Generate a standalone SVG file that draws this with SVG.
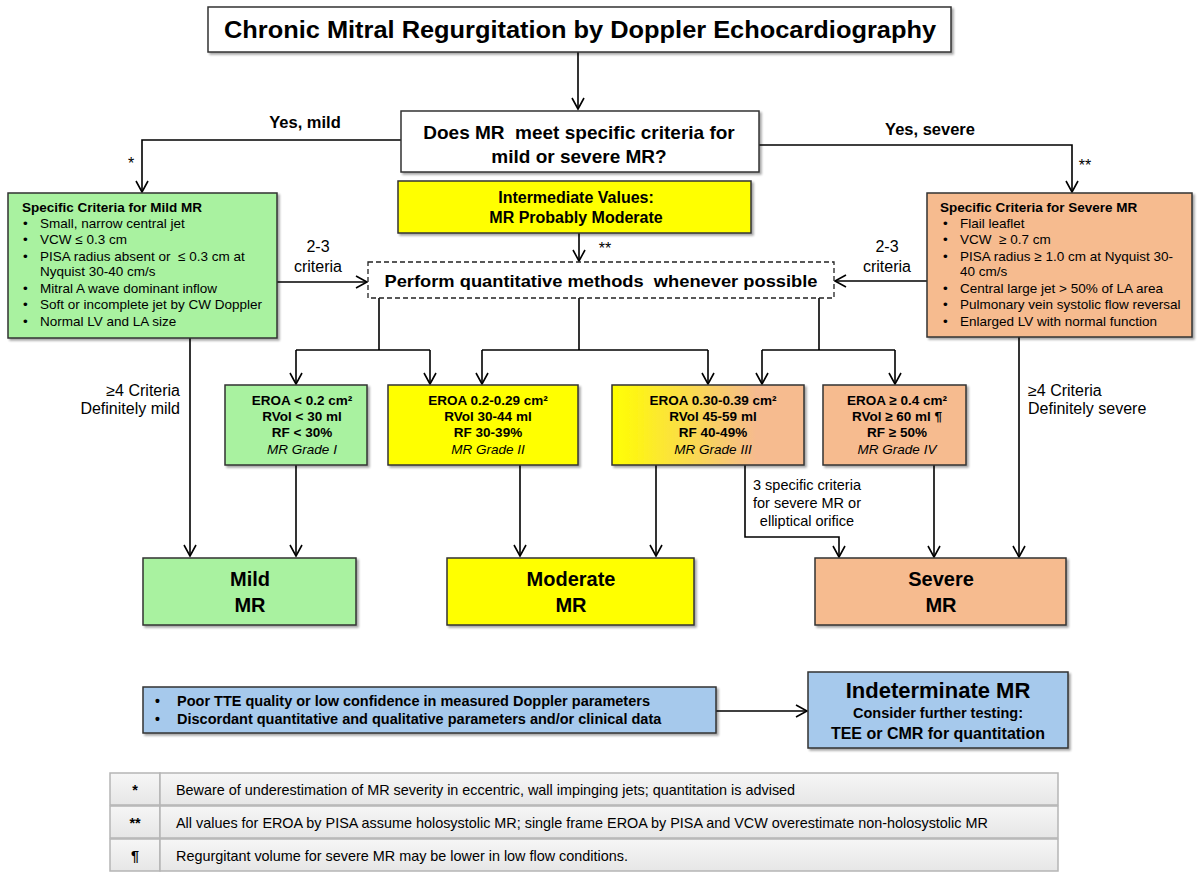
<svg xmlns="http://www.w3.org/2000/svg" width="1200" height="876" viewBox="0 0 1200 876">
<defs>
<marker id="arr" markerWidth="14" markerHeight="14" refX="12" refY="7" orient="auto" markerUnits="userSpaceOnUse">
<path d="M1,1 L12,7 L1,13" fill="none" stroke="#000" stroke-width="1.6"/>
</marker>
<filter id="sh" x="-5%" y="-5%" width="110%" height="115%">
<feDropShadow dx="2" dy="2" stdDeviation="1" flood-color="#000" flood-opacity="0.35"/>
</filter>
<linearGradient id="g3" x1="0" y1="0" x2="1" y2="0">
<stop offset="0" stop-color="#ffff00"/>
<stop offset="0.75" stop-color="#f6bb8f"/>
</linearGradient>
<linearGradient id="tb" x1="0" y1="0" x2="0" y2="1">
<stop offset="0" stop-color="#f6f6f6"/>
<stop offset="1" stop-color="#e6e6e6"/>
</linearGradient>
</defs>
<style>
text{font-family:"Liberation Sans",Arial,sans-serif;fill:#000}
.b{font-weight:bold}
.box{stroke:#333;stroke-width:1.5}
.green{fill:#a9f2a0}
.yellow{fill:#ffff00}
.orange{fill:#f6bb8f}
.blue{fill:#a6c9ec}
.white{fill:#fff}
.c{text-anchor:middle}
.r{text-anchor:end}
.crit{font-size:13.5px}
.ct{font-size:13.5px;font-weight:bold}
.grade{font-size:13.5px;font-weight:bold;text-anchor:middle}
.gi{font-size:13.5px;font-style:italic;text-anchor:middle}
.big{font-size:20px;font-weight:bold;text-anchor:middle}
.lbl{font-size:16px}
.yes{font-size:16.5px;font-weight:bold;text-anchor:middle}
.con{fill:none;stroke:#000;stroke-width:1.6}
.tcell{fill:url(#tb);stroke:#b5b5b5;stroke-width:1.5}
.ft{font-size:14.4px}
</style>

<g id="connectors">
<path class="con" d="M578,52 V109" marker-end="url(#arr)"/>
<path class="con" d="M401,140 H142 V192" marker-end="url(#arr)"/>
<path class="con" d="M759,145 H1072 V192" marker-end="url(#arr)"/>
<path class="con" d="M579,233 V261" marker-end="url(#arr)"/>
<path class="con" d="M277,282 H367" marker-end="url(#arr)"/>
<path class="con" d="M927,281 H835" marker-end="url(#arr)"/>
<path class="con" d="M379,298 V350"/>
<path class="con" d="M296,350 H430"/>
<path class="con" d="M296,350 V384" marker-end="url(#arr)"/>
<path class="con" d="M430,350 V384" marker-end="url(#arr)"/>
<path class="con" d="M579,298 V350"/>
<path class="con" d="M482,350 H708"/>
<path class="con" d="M482,350 V384" marker-end="url(#arr)"/>
<path class="con" d="M708,350 V384" marker-end="url(#arr)"/>
<path class="con" d="M819,298 V350"/>
<path class="con" d="M762,350 H895"/>
<path class="con" d="M762,350 V384" marker-end="url(#arr)"/>
<path class="con" d="M895,350 V384" marker-end="url(#arr)"/>
<path class="con" d="M190,338 V556" marker-end="url(#arr)"/>
<path class="con" d="M296,465 V556" marker-end="url(#arr)"/>
<path class="con" d="M520,465 V556" marker-end="url(#arr)"/>
<path class="con" d="M656,465 V556" marker-end="url(#arr)"/>
<path class="con" d="M745,465 V537 H839 V557" marker-end="url(#arr)"/>
<path class="con" d="M934,465 V557" marker-end="url(#arr)"/>
<path class="con" d="M1019,337 V557" marker-end="url(#arr)"/>
<path class="con" d="M716,711 H807" marker-end="url(#arr)"/>
<text class="yes" x="305" y="128">Yes, mild</text>
<text class="yes" x="930" y="135">Yes, severe</text>
<text class="lbl c" x="131" y="169">*</text>
<text class="lbl c" x="1085" y="171">**</text>
<text class="lbl c" x="605" y="254">**</text>
<text class="lbl c" x="318" y="252">2-3</text>
<text class="lbl c" x="318" y="272">criteria</text>
<text class="lbl c" x="887" y="252">2-3</text>
<text class="lbl c" x="887" y="272">criteria</text>
<text class="lbl r" x="180" y="396">≥4 Criteria</text>
<text class="lbl r" x="180" y="414">Definitely mild</text>
<text class="lbl" x="1028" y="396">≥4 Criteria</text>
<text class="lbl" x="1028" y="414">Definitely severe</text>
<text class="c" font-size="14.5" x="807" y="490">3 specific criteria</text>
<text class="c" font-size="14.5" x="807" y="508">for severe MR or</text>
<text class="c" font-size="14.5" x="807" y="526">elliptical orifice</text>
</g>

<g id="title">
<rect class="box white" x="208" y="7" width="743" height="45" filter="url(#sh)"/>
<text class="b c" x="580" y="38" font-size="23" textLength="712" lengthAdjust="spacingAndGlyphs">Chronic Mitral Regurgitation by Doppler Echocardiography</text>
</g>

<g id="question">
<rect class="box white" x="401" y="111" width="358" height="61" filter="url(#sh)"/>
<text class="b c" x="579" y="139" font-size="19">Does MR&#160; meet specific criteria for</text>
<text class="b c" x="579" y="163" font-size="19">mild or severe MR?</text>
</g>

<g id="intermediate">
<rect class="box yellow" x="398" y="181" width="353" height="52" filter="url(#sh)"/>
<text class="b c" x="576" y="203" font-size="16">Intermediate Values:</text>
<text class="b c" x="576" y="223" font-size="16">MR Probably Moderate</text>
</g>

<g id="mild-criteria">
<rect class="box green" x="8" y="193" width="269" height="145" filter="url(#sh)"/>
<text class="ct" x="22" y="212">Specific Criteria for Mild MR</text>
<g class="crit">
<text x="23" y="228">•</text><text x="40" y="228">Small, narrow central jet</text>
<text x="23" y="244">•</text><text x="40" y="244">VCW ≤ 0.3 cm</text>
<text x="23" y="261">•</text><text x="40" y="261">PISA radius absent or&#160; ≤ 0.3 cm at</text>
<text x="40" y="276">Nyquist 30-40 cm/s</text>
<text x="23" y="293">•</text><text x="40" y="293">Mitral A wave dominant inflow</text>
<text x="23" y="309">•</text><text x="40" y="309">Soft or incomplete jet by CW Doppler</text>
<text x="23" y="326">•</text><text x="40" y="326">Normal LV and LA size</text>
</g>
</g>

<g id="severe-criteria">
<rect class="box orange" x="927" y="193" width="265" height="144" filter="url(#sh)"/>
<text class="ct" x="940" y="212">Specific Criteria for Severe MR</text>
<g class="crit">
<text x="943" y="228">•</text><text x="960" y="228">Flail leaflet</text>
<text x="943" y="244">•</text><text x="960" y="244">VCW&#160; ≥ 0.7 cm</text>
<text x="943" y="261">•</text><text x="960" y="261">PISA radius ≥ 1.0 cm at Nyquist 30-</text>
<text x="960" y="276">40 cm/s</text>
<text x="943" y="293">•</text><text x="960" y="293">Central large jet &gt; 50% of LA area</text>
<text x="943" y="309">•</text><text x="960" y="309">Pulmonary vein systolic flow reversal</text>
<text x="943" y="326">•</text><text x="960" y="326">Enlarged LV with normal function</text>
</g>
</g>

<g id="quantitative">
<rect x="368" y="262" width="466" height="36" fill="#fff" stroke="#222" stroke-width="1.3" stroke-dasharray="5,3"/>
<text class="b c" x="601" y="287" font-size="17" textLength="433" lengthAdjust="spacingAndGlyphs">Perform quantitative methods&#160; whenever possible</text>
</g>

<g id="grade1">
<rect class="box green" x="225" y="385" width="142" height="80" filter="url(#sh)"/>
<text class="grade" x="302" y="405">EROA &lt; 0.2 cm²</text>
<text class="grade" x="302" y="421">RVol &lt; 30 ml</text>
<text class="grade" x="302" y="437">RF &lt; 30%</text>
<text class="gi" x="302" y="454">MR Grade I</text>
</g>

<g id="grade2">
<rect class="box yellow" x="388" y="385" width="190" height="80" filter="url(#sh)"/>
<text class="grade" x="488" y="405">EROA 0.2-0.29 cm²</text>
<text class="grade" x="488" y="421">RVol 30-44 ml</text>
<text class="grade" x="488" y="437">RF 30-39%</text>
<text class="gi" x="488" y="454">MR Grade II</text>
</g>

<g id="grade3">
<rect class="box" fill="url(#g3)" x="612" y="385" width="192" height="80" filter="url(#sh)"/>
<text class="grade" x="713" y="405">EROA 0.30-0.39 cm²</text>
<text class="grade" x="713" y="421">RVol 45-59 ml</text>
<text class="grade" x="713" y="437">RF 40-49%</text>
<text class="gi" x="713" y="454">MR Grade III</text>
</g>

<g id="grade4">
<rect class="box orange" x="823" y="385" width="143" height="80" filter="url(#sh)"/>
<text class="grade" x="897" y="405">EROA ≥ 0.4 cm²</text>
<text class="grade" x="897" y="421">RVol ≥ 60 ml ¶</text>
<text class="grade" x="897" y="437">RF ≥ 50%</text>
<text class="gi" x="897" y="454">MR Grade IV</text>
</g>

<g id="mild-mr">
<rect class="box green" x="143" y="558" width="213" height="67" filter="url(#sh)"/>
<text class="big" x="250" y="586">Mild</text>
<text class="big" x="250" y="612">MR</text>
</g>

<g id="moderate-mr">
<rect class="box yellow" x="447" y="558" width="247" height="67" filter="url(#sh)"/>
<text class="big" x="571" y="586">Moderate</text>
<text class="big" x="571" y="612">MR</text>
</g>

<g id="severe-mr">
<rect class="box orange" x="815" y="558" width="251" height="67" filter="url(#sh)"/>
<text class="big" x="941" y="586">Severe</text>
<text class="big" x="941" y="612">MR</text>
</g>

<g id="poor-quality">
<rect class="box blue" x="143" y="687" width="573" height="46" filter="url(#sh)"/>
<text class="b" x="155" y="706" font-size="14">•</text>
<text class="b" x="177" y="706" font-size="14.5">Poor TTE quality or low confidence in measured Doppler parameters</text>
<text class="b" x="155" y="724" font-size="14">•</text>
<text class="b" x="177" y="724" font-size="14.5">Discordant quantitative and qualitative parameters and/or clinical data</text>
</g>

<g id="indeterminate">
<rect class="box blue" x="808" y="672" width="260" height="76" filter="url(#sh)"/>
<text class="b c" x="938" y="698" font-size="22">Indeterminate MR</text>
<text class="b c" x="938" y="718" font-size="14.5">Consider further testing:</text>
<text class="b c" x="938" y="739" font-size="16">TEE or CMR for quantitation</text>
</g>

<g id="footnotes">
<rect class="tcell" x="110" y="773" width="50" height="32"/>
<rect class="tcell" x="160" y="773" width="898" height="32"/>
<rect class="tcell" x="110" y="806" width="50" height="32"/>
<rect class="tcell" x="160" y="806" width="898" height="32"/>
<rect class="tcell" x="110" y="839" width="50" height="32"/>
<rect class="tcell" x="160" y="839" width="898" height="32"/>
<text class="ft c b" x="135" y="795">*</text>
<text class="ft c b" x="135" y="828">**</text>
<text class="ft c b" x="135" y="861">¶</text>
<text class="ft" x="176" y="795">Beware of underestimation of MR severity in eccentric, wall impinging jets; quantitation is advised</text>
<text class="ft" x="176" y="828">All values for EROA by PISA assume holosystolic MR; single frame EROA by PISA and VCW overestimate non-holosystolic MR</text>
<text class="ft" x="176" y="861">Regurgitant volume for severe MR may be lower in low flow conditions.</text>
</g>
</svg>
